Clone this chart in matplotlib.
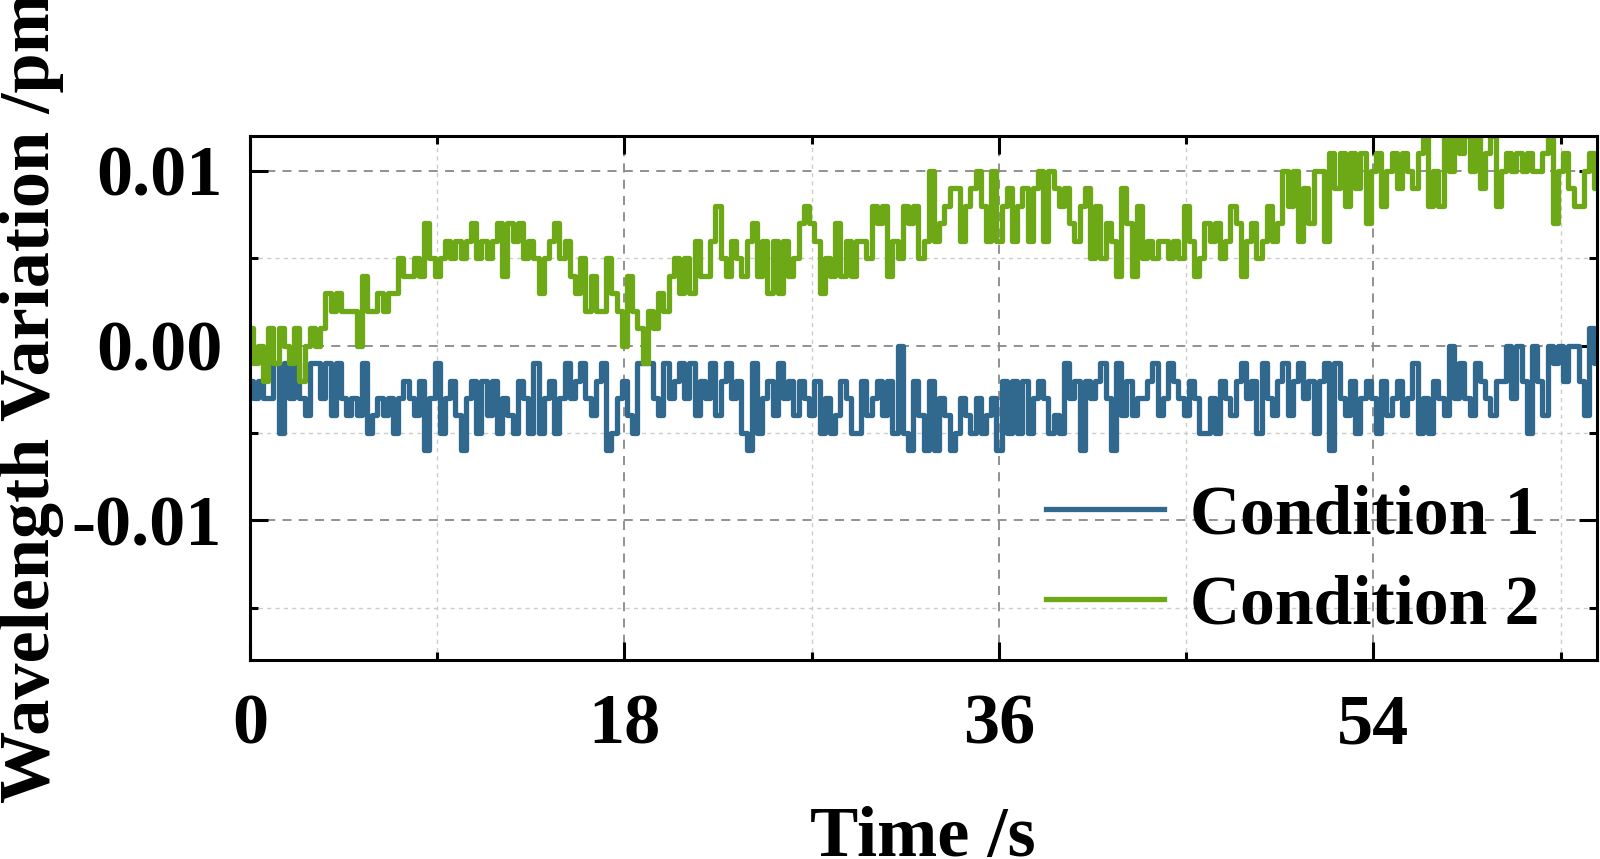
import numpy as np
import matplotlib
matplotlib.use("Agg")
import matplotlib.pyplot as plt
from matplotlib.ticker import MultipleLocator, FormatStrFormatter

plt.rcParams['font.family'] = ['Liberation Serif', 'DejaVu Serif']
plt.rcParams['font.weight'] = 'bold'
plt.rcParams['axes.unicode_minus'] = False

# sampling step of the recorded signal (s)
dt = 0.25

# wavelength variation, in units of 0.001 pm, four samples per second
cond1_milli = [
    -2, -3, -2, -3,  -3, -1, -5, -1,  -3, -1, -3, -4,  -1, -1, -3, -1,
    -4, -1, -3, -4,  -3, -4, -1, -5,  -4, -3, -4, -3,  -5, -3, -2, -3,
    -4, -2, -6, -3,  -1, -5, -3, -2,  -4, -6, -3, -2,  -5, -2, -4, -2,
    -5, -3, -4, -5,  -2, -3, -5, -1,  -5, -3, -2, -5,  -3, -1, -3, -2,
    -1, -3, -4, -2,  -1, -6, -5, -3,  -2, -4, -5, -1,  -1, -1, -3, -4,
    -1, -3, -2, -1,  -3, -1, -4, -2,  -3, -1, -4, -2,  -1, -3, -2, -5,
    -6, -1, -5, -3,  -2, -4, -1, -3,  -2, -4, -2, -3,  -4, -2, -5, -3,
    -5, -4, -2, -3,  -5, -5, -2, -4,  -3, -2, -4, -2,  -5, 0, -5, -6,
    -2, -4, -6, -2,  -6, -3, -4, -6,  -5, -3, -4, -5,  -3, -5, -4, -3,
    -6, -2, -5, -2,  -5, -2, -5, -3,  -2, -3, -5, -4,  -5, -1, -3, -2,
    -6, -2, -3, -2,  -1, -3, -6, -1,  -4, -2, -4, -3,  -3, -2, -1, -4,
    -3, -1, -2, -3,  -4, -2, -3, -5,  -5, -3, -5, -2,  -3, -4, -2, -1,
    -3, -2, -5, -1,  -3, -4, -2, -1,  -4, -2, -1, -3,  -2, -5, -2, -1,
    -6, -1, -3, -4,  -2, -5, -3, -2,  -3, -5, -2, -4,  -3, -2, -4, -3,
    -1, -5, -3, -5,  -2, -3, -4, 0,  -3, -1, -3, -4,  -1, -2, -3, -4,
    -2, -2, 0, -3,  0, -2, -5, 0,  -2, -4, 0, -1,  0, -2, 0, 0,
    -2, -4, 1, -1,
]
cond2_milli = [
    1, -1, 0, -2,  1, -1, 1, 0,  -1, 1, -2, 0,  1, 0, 1, 3,
    2, 3, 2, 2,  2, 0, 4, 2,  2, 3, 2, 3,  3, 5, 4, 4,
    5, 4, 7, 5,  4, 5, 6, 5,  6, 5, 6, 7,  5, 6, 5, 6,
    7, 4, 7, 6,  7, 5, 6, 5,  3, 5, 6, 7,  5, 6, 4, 3,
    5, 2, 4, 2,  2, 5, 3, 2,  0, 4, 2, 1,  -1, 2, 1, 3,
    2, 4, 5, 3,  5, 3, 6, 4,  4, 6, 8, 5,  4, 6, 5, 4,
    6, 7, 4, 6,  3, 6, 3, 6,  4, 5, 7, 8,  7, 6, 3, 5,
    4, 7, 4, 6,  4, 6, 6, 5,  8, 7, 8, 4,  6, 5, 8, 7,
    8, 5, 6, 10,  6, 7, 8, 9,  9, 6, 8, 9,  10, 8, 6, 10,
    6, 8, 9, 6,  8, 9, 6, 9,  10, 6, 10, 9,  8, 9, 7, 6,
    8, 9, 5, 8,  5, 7, 6, 4,  9, 7, 4, 8,  5, 6, 5, 6,
    6, 5, 6, 5,  8, 6, 4, 5,  7, 6, 7, 5,  6, 8, 7, 4,
    6, 7, 5, 6,  8, 6, 7, 10,  8, 10, 6, 9,  7, 10, 10, 6,
    11, 9, 11, 8,  11, 9, 11, 7,  10, 11, 8, 10,  11, 9, 11, 10,
    9, 11, 12, 8,  10, 8, 12, 10,  12, 11, 12, 10,  12, 9, 11, 12,
    8, 10, 11, 10,  11, 10, 11, 10,  10, 11, 12, 7,  10, 11, 9, 8,
    8, 10, 11, 9,
]
labels = ['Condition 1', 'Condition 2']
colors = ['#31688E', '#6DA817']

y1 = np.array(cond1_milli) * 1e-3
y2 = np.array(cond2_milli) * 1e-3
t = np.arange(len(y1)) * dt

fig = plt.figure(figsize=(16, 8.59), dpi=100)
ax = fig.add_axes([0.15625, 0.2317, 0.8419, 0.61])

ax.plot(t, y1, color=colors[0], lw=3.8, label=labels[0], drawstyle='steps-mid')
ax.plot(t, y2, color=colors[1], lw=3.8, label=labels[1], drawstyle='steps-mid')

ax.set_xlim(0, 64.75)
ax.set_ylim(-0.018, 0.012)
ax.xaxis.set_major_locator(MultipleLocator(18))
ax.xaxis.set_minor_locator(MultipleLocator(9))
ax.yaxis.set_major_locator(MultipleLocator(0.01))
ax.yaxis.set_minor_locator(MultipleLocator(0.005))
ax.yaxis.set_major_formatter(FormatStrFormatter('%.2f'))

ax.grid(which='major', ls=(0, (5, 4)), color='#888888', lw=1.3)
ax.grid(which='minor', ls=(0, (3, 3)), color='#cccccc', lw=1.0)
ax.set_axisbelow(True)

for s in ax.spines.values():
    s.set_linewidth(2.2)
ax.tick_params(which='both', direction='in', top=True, right=True, width=2.2)
ax.tick_params(which='major', length=13, labelsize=52)
ax.tick_params(which='minor', length=6)
ax.tick_params(axis='x', pad=24)
ax.tick_params(axis='y', pad=20)

fig.text(0.02, 1 - 398 / 859, 'Wavelength Variation /pm', rotation=90,
         ha='center', va='center', fontsize=52, fontweight='bold')
fig.text(0.577, 0.004, 'Time /s', ha='center', va='baseline',
         fontsize=52, fontweight='bold')

ax.legend(loc='lower right', bbox_to_anchor=(0.983, -0.025), frameon=False,
          fontsize=50, handlelength=1.7, handletextpad=0.37,
          labelspacing=0.37, borderpad=0)

fig.savefig('out.png', dpi=100)
